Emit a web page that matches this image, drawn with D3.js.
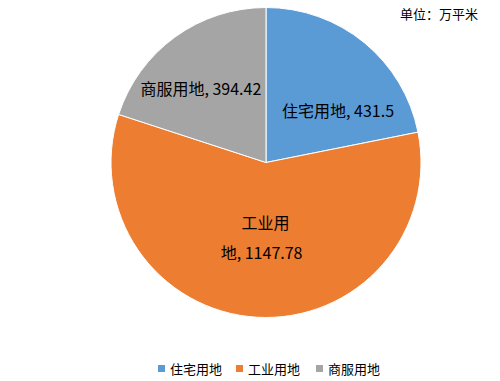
<!DOCTYPE html>
<html><head><meta charset="utf-8">
<script src="https://cdn.jsdelivr.net/npm/d3@7"></script>
<style>body{margin:0;background:#fff}svg{display:block}</style>
</head><body>
<svg id="c" width="500" height="381"></svg>
<script>
const categories = ["住宅用地", "工业用地", "商服用地"];
const values = [431.5, 1147.78, 394.42];
const colors = ["#5B9BD5", "#ED7D31", "#A5A5A5"];
const unitLabel = "单位：万平米";

const svg = d3.select("#c");
const font = "'Noto Sans CJK SC', 'Microsoft YaHei', sans-serif";
const cx = 266, cy = 162.5, R = 155;
const data = categories.map((c, i) => ({cat: c, val: values[i], color: colors[i]}));
const pie = d3.pie().value(d => d.val).sort(null);
const arcs = pie(data);
const arc = d3.arc().innerRadius(0).outerRadius(R);
const g = svg.append("g").attr("transform", `translate(${cx},${cy})`);
g.selectAll("path").data(arcs).join("path")
  .attr("d", arc).attr("fill", d => d.data.color)
  .attr("stroke", "#fff").attr("stroke-width", 1);

// labels
const labelCfg = [
  {r: 90, dx: 15, dy: 17, lines: d => [d.cat + ", " + d.val]},
  {r: 75, dx: 2, dy: 0, lines: d => ["工业用", "地, " + d.val]},
  {r: 99, dx: -7, dy: 6, lines: d => [d.cat + ", " + d.val]}
];
arcs.forEach((a, i) => {
  const cfg = labelCfg[i];
  const p = d3.arc().innerRadius(cfg.r).outerRadius(cfg.r).centroid(a);
  const lines = cfg.lines(a.data);
  const t = g.append("text")
    .attr("font-family", font).attr("font-size", 16).attr("fill", "#000")
    .attr("text-anchor", "middle");
  lines.forEach((ln, j) => {
    t.append("tspan").attr("x", p[0] + cfg.dx + (lines.length > 1 && j === 0 ? 2 : (lines.length > 1 ? -2 : 0)))
      .attr("y", p[1] + cfg.dy + (j - (lines.length - 1) / 2) * 30)
      .attr("dominant-baseline", "central").text(ln);
  });
});

// unit
svg.append("text").attr("x", 478).attr("y", 13).attr("text-anchor", "end")
  .attr("dominant-baseline", "central")
  .attr("font-family", font).attr("font-size", 13).attr("fill", "#000").text(unitLabel);

// legend
const legX = [158, 236, 316];
const leg = svg.append("g");
data.forEach((d, i) => {
  leg.append("rect").attr("x", legX[i]).attr("y", 365).attr("width", 7).attr("height", 7).attr("fill", d.color);
  leg.append("text").attr("x", legX[i] + 12).attr("y", 368.5).attr("dominant-baseline", "central")
    .attr("font-family", font).attr("font-size", 13).attr("fill", "#000").text(d.cat);
});
</script>
</body></html>
